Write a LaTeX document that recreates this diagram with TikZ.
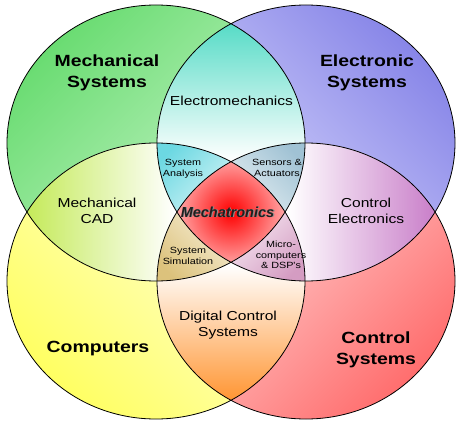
\documentclass[tikz,border=0pt]{standalone}
\usepackage{fontspec}
\setmainfont{Liberation Sans}
\newfontfamily\wide[FakeStretch=1.2]{Liberation Sans}
\newfontfamily\mfont{Liberation Sans}
\definecolor{gD}{HTML}{6ADC72}
\definecolor{gL}{HTML}{D2F7D2}
\definecolor{bD}{HTML}{8886E8}
\definecolor{bL}{HTML}{E4E4FF}
\definecolor{yD}{HTML}{FFFF62}
\definecolor{yL}{HTML}{FFFFE8}
\definecolor{rD}{HTML}{FF6E6E}
\definecolor{rL}{HTML}{FFE4E4}
\definecolor{emC}{HTML}{55DBC6}
\definecolor{mcC}{HTML}{C4EA58}
\definecolor{ceC}{HTML}{C87CC8}
\definecolor{dcC}{HTML}{FF9430}
\definecolor{saD}{HTML}{6CD8E2}
\definecolor{saL}{HTML}{D4F4F6}
\definecolor{snD}{HTML}{A0C2D4}
\definecolor{snL}{HTML}{E4EEF2}
\definecolor{siD}{HTML}{DCC27C}
\definecolor{siL}{HTML}{F6EED6}
\definecolor{miD}{HTML}{D49CC2}
\definecolor{miL}{HTML}{F6E8F2}
\definecolor{mxO}{HTML}{FFB4B4}
\begin{document}
\begin{tikzpicture}[x=1pt,y=-1pt,
  E/.style={x radius=149pt,y radius=138pt},
  outline/.style={draw=black,line width=0.8pt},
  big/.style={font=\wide\bfseries\fontsize{16.2}{21}\selectfont,align=center,inner sep=0pt},
  mid/.style={font=\wide\fontsize{13}{15.7}\selectfont,align=center,inner sep=0pt},
  small/.style={font=\wide\fontsize{9}{10.5}\selectfont,align=center,inner sep=0pt},
  mech/.style={font=\mfont\bfseries\itshape\fontsize{14.5}{16}\selectfont,inner sep=0pt}]
\useasboundingbox (0,0) rectangle (460,425);
\fill[white] (0,0) rectangle (460,425);
\coordinate (cG) at (156,143);
\coordinate (cB) at (306,143);
\coordinate (cY) at (156,281);
\coordinate (cR) at (306,281);
% single sets
\shade[top color=gD,bottom color=gL,shading angle=45] (cG) ellipse [E];
\shade[top color=bD,bottom color=bL,shading angle=-45] (cB) ellipse [E];
\shade[top color=yL,bottom color=yD,shading angle=-45] (cY) ellipse [E];
\shade[top color=rL,bottom color=rD,shading angle=45] (cR) ellipse [E];
% pairs
\begin{scope}
  \clip (cG) ellipse [E];
  \clip (cB) ellipse [E];
  \shade[top color=emC,bottom color=white] (150,22) rectangle (312,160);
  \fill[white] (150,159) rectangle (312,270);
\end{scope}
\begin{scope}
  \clip (cG) ellipse [E];
  \clip (cY) ellipse [E];
  \shade[left color=mcC,right color=white] (25,130) rectangle (175,295);
  \fill[white] (174,130) rectangle (320,295);
\end{scope}
\begin{scope}
  \clip (cB) ellipse [E];
  \clip (cR) ellipse [E];
  \shade[left color=white,right color=ceC] (288,130) rectangle (438,295);
  \fill[white] (140,130) rectangle (289,295);
\end{scope}
\begin{scope}
  \clip (cY) ellipse [E];
  \clip (cR) ellipse [E];
  \shade[top color=white,bottom color=dcC] (150,265) rectangle (312,402);
  \fill[white] (150,150) rectangle (312,266);
\end{scope}
% triples
\begin{scope}
  \clip (cG) ellipse [E];
  \clip (cB) ellipse [E];
  \clip (cY) ellipse [E];
  \shade[top color=saD,bottom color=saL,shading angle=45] (156,142) rectangle (232,214);
\end{scope}
\begin{scope}
  \clip (cG) ellipse [E];
  \clip (cB) ellipse [E];
  \clip (cR) ellipse [E];
  \shade[top color=snD,bottom color=snL,shading angle=-45] (230,142) rectangle (306,214);
\end{scope}
\begin{scope}
  \clip (cG) ellipse [E];
  \clip (cY) ellipse [E];
  \clip (cR) ellipse [E];
  \shade[top color=siL,bottom color=siD,shading angle=-45] (156,210) rectangle (232,282);
\end{scope}
\begin{scope}
  \clip (cB) ellipse [E];
  \clip (cY) ellipse [E];
  \clip (cR) ellipse [E];
  \shade[top color=miL,bottom color=miD,shading angle=45] (230,210) rectangle (306,282);
\end{scope}
% quadruple
\begin{scope}
  \clip (cG) ellipse [E];
  \clip (cB) ellipse [E];
  \clip (cY) ellipse [E];
  \clip (cR) ellipse [E];
  \shade[inner color=red,outer color=mxO] (231,212) circle (58pt);
\end{scope}
% outlines
\draw[outline] (cG) ellipse [E];
\draw[outline] (cB) ellipse [E];
\draw[outline] (cY) ellipse [E];
\draw[outline] (cR) ellipse [E];
% labels
\node[big] (ms) at (107,73) {Mechanical\\Systems};
\node[big] (es) at (367,73) {Electronic\\Systems};
\node[big] (cp) at (98,349) {Computers};
\node[big] (cs) at (376,350) {Control\\Systems};
\node[mid] (em) at (231.5,101) {Electromechanics};
\node[mid] (mc) at (97,211) {Mechanical\\CAD};
\node[mid] (ce) at (366,211) {Control\\Electronics};
\node[mid] (dc) at (228,325) {Digital Control\\Systems};
\node[small] (sa) at (183,169) {System\\Analysis};
\node[small] (sn) at (277,168) {Sensors \&\\Actuators};
\node[small] (ss) at (188,256) {System\\Simulation};
\node[small] (mi) at (281,255) {Micro-\\computers\\\& DSP's};
\node[mech,text=black!45] (mxs) at (228.6,212.8) {Mechatronics};
\node[mech,text=black!88] (mx) at (227.5,212) {Mechatronics};
\end{tikzpicture}
\end{document}
